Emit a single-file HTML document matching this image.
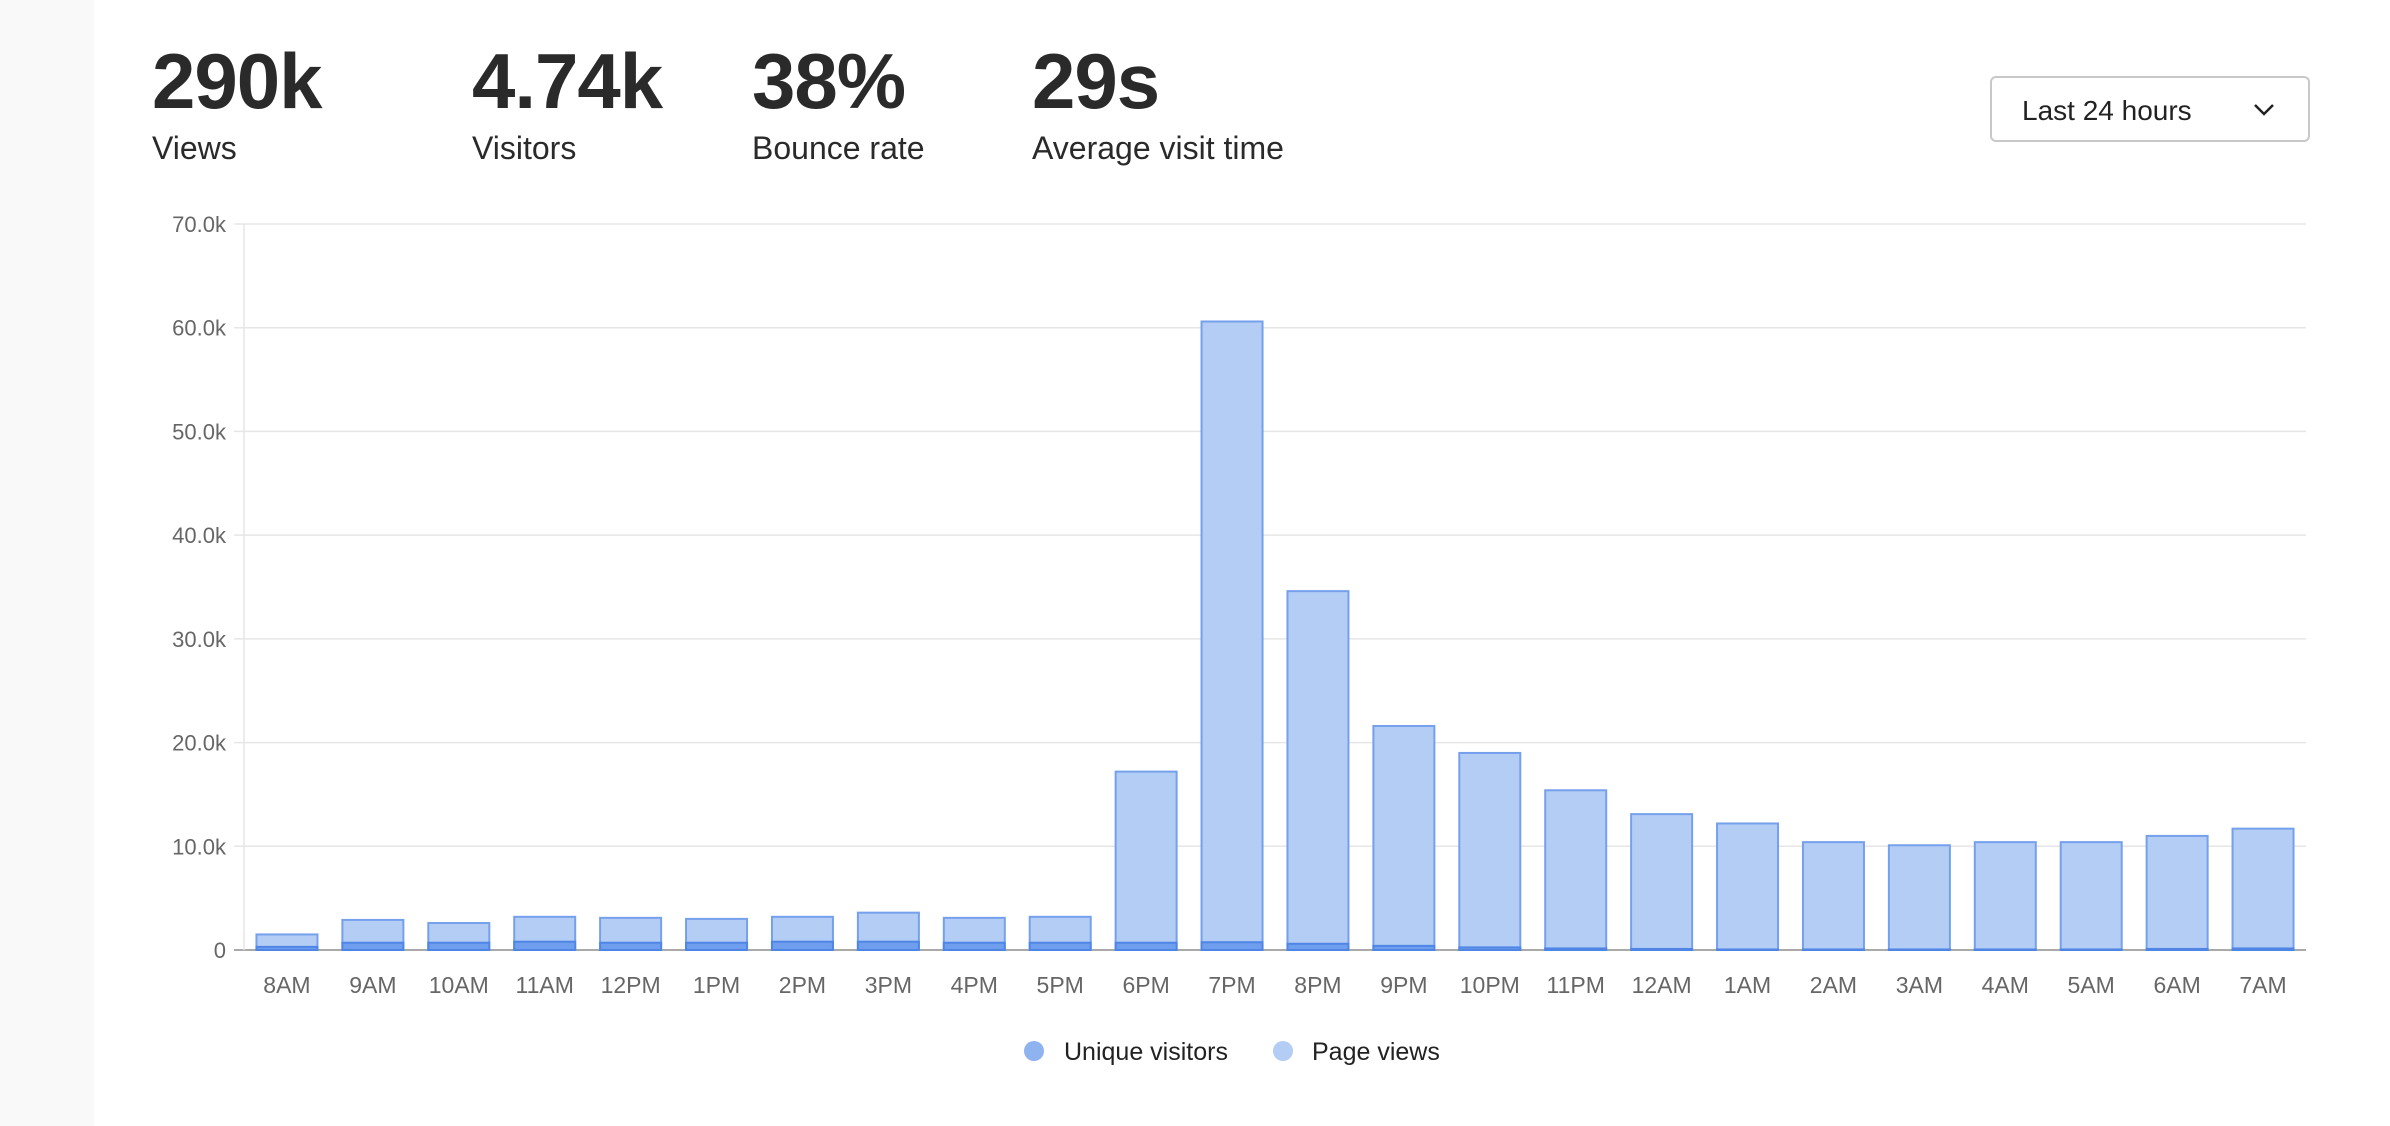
<!DOCTYPE html>
<html><head><meta charset="utf-8"><style>
html,body{margin:0;padding:0;width:2390px;height:1126px;overflow:hidden;background:#fff;font-family:"Liberation Sans",sans-serif;}
#strip{position:absolute;left:0;top:0;width:94px;height:1126px;background:#f9f9f9;}
.stat{position:absolute;top:36px;color:#2a2a2a;}
.stat .v{font-size:78px;font-weight:bold;line-height:90px;letter-spacing:-1px;}
.stat .l{font-size:32px;line-height:40px;margin-top:2px;}
#dd{position:absolute;left:1990px;top:76px;width:320px;height:66px;border:2px solid #c8c8c8;border-radius:6px;box-sizing:border-box;font-size:28px;color:#222;}
#dd span{position:absolute;left:30px;top:17px;}
svg{position:absolute;left:0;top:0;}
</style></head><body>
<div id="strip"></div>
<div class="stat" style="left:152px"><div class="v">290k</div><div class="l">Views</div></div>
<div class="stat" style="left:472px"><div class="v">4.74k</div><div class="l">Visitors</div></div>
<div class="stat" style="left:752px"><div class="v">38%</div><div class="l">Bounce rate</div></div>
<div class="stat" style="left:1032px"><div class="v">29s</div><div class="l">Average visit time</div></div>
<div id="dd"><span>Last 24 hours</span>
<svg style="left:260px;top:24px" width="24" height="16"><path d="M3 3 L12 12 L21 3" fill="none" stroke="#222" stroke-width="2.5"/></svg></div>
<svg id="chart" width="2390" height="1126"></svg>
<script>
const categories=["8AM","9AM","10AM","11AM","12PM","1PM","2PM","3PM","4PM","5PM","6PM","7PM","8PM","9PM","10PM","11PM","12AM","1AM","2AM","3AM","4AM","5AM","6AM","7AM"];
const pageViews=[1500,2900,2600,3200,3100,3000,3200,3600,3100,3200,17200,60600,34600,21600,19000,15400,13100,12200,10400,10100,10400,10400,11000,11700];
const uniqueVisitors=[300,700,700,800,700,700,800,800,700,700,700,750,600,400,250,150,100,50,50,50,50,50,100,150];
const yTicks=[0,10000,20000,30000,40000,50000,60000,70000];
const yTickLabels=["0","10.0k","20.0k","30.0k","40.0k","50.0k","60.0k","70.0k"];
const NS="http://www.w3.org/2000/svg";
const svg=document.getElementById('chart');
const L=244,R=2306,T=224,B=950,YMAX=70000;
const slot=(R-L)/categories.length,bw=slot*0.71;
const y=v=>B-(v/YMAX)*(B-T);
const xc=i=>L+slot*(i+0.5);
function mk(tag,a){const e=document.createElementNS(NS,tag);for(const k in a)e.setAttribute(k,a[k]);svg.appendChild(e);return e;}
yTicks.forEach((t,i)=>{
 const g=mk('line',{x1:L-10,x2:R,y1:y(t),y2:y(t),stroke:t===0?'#aaa':'#e6e6e6','stroke-width':t===0?2:1.5});
 
 
 const tx=mk('text',{x:L-18,y:y(t)+8,'text-anchor':'end','font-size':22,fill:'#666','font-family':'Liberation Sans, sans-serif'});
 tx.textContent=yTickLabels[i];
 
 
});
const ax=mk('line',{x1:L,x2:L,y1:T,y2:B,stroke:'#e6e6e6','stroke-width':1.5});


categories.forEach((c,i)=>{
 const x=xc(i)-bw/2;
 const p=mk('rect',{x:x,y:y(pageViews[i]),width:bw,height:B-y(pageViews[i]),fill:'#b4cdf4',stroke:'#75a0ec','stroke-width':2});
 
 
 const u=mk('rect',{x:x,y:y(uniqueVisitors[i]),width:bw,height:B-y(uniqueVisitors[i]),fill:'#6f9eee',stroke:'#4f86e6','stroke-width':2});
 
 
 const t=mk('text',{x:xc(i),y:993,'text-anchor':'middle','font-size':23,fill:'#666','font-family':'Liberation Sans, sans-serif'});
 t.textContent=c;
 
 
});
const legend=[["Unique visitors","#8fb2f0",1034,1064],["Page views","#b4cdf4",1283,1312]];
legend.forEach(l=>{
 const d=mk('circle',{cx:l[2],cy:1051,r:10,fill:l[1]});
 
 
 const t=mk('text',{x:l[3],y:1060,'font-size':25,fill:'#222','font-family':'Liberation Sans, sans-serif'});
 t.textContent=l[0];
 
 
});
</script>
</body></html>
